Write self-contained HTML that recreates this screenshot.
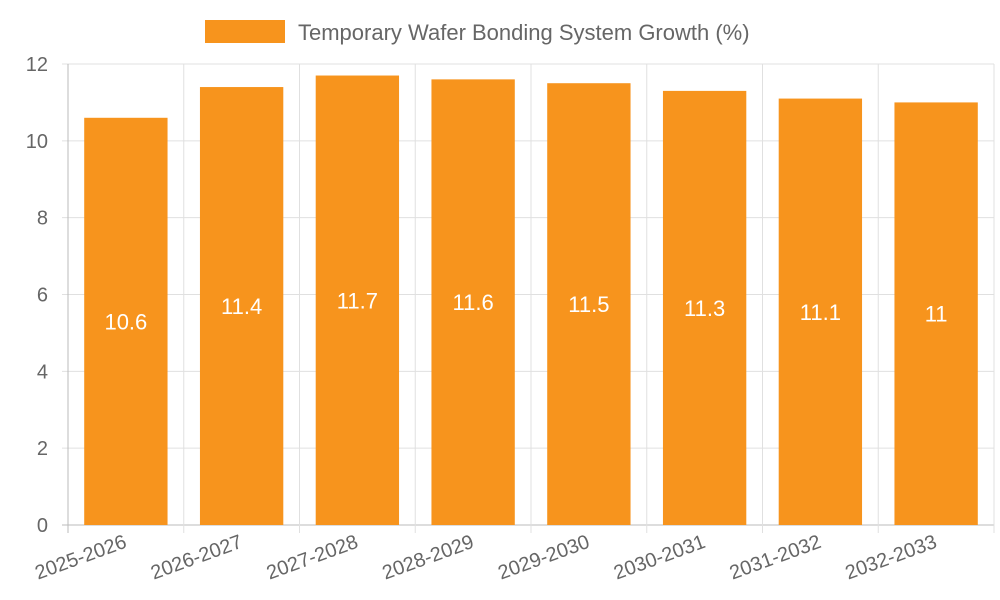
<!DOCTYPE html>
<html><head><meta charset="utf-8"><style>
html,body{margin:0;padding:0;background:#fff;width:1000px;height:600px;overflow:hidden}
svg{display:block;font-family:"Liberation Sans",sans-serif}
</style></head><body>
<svg id="chart" width="1000" height="600">
<g>
<rect x="205" y="20" width="80" height="23" fill="#f7941d"></rect>
<text x="298" y="40" font-size="22" fill="#666">Temporary Wafer Bonding System Growth (%)</text>
</g>
<g id="grid"></g>
<g id="bars"></g>
<g id="axes"></g>
</svg>
<script>
const categories=["2025-2026","2026-2027","2027-2028","2028-2029","2029-2030","2030-2031","2031-2032","2032-2033"];
const values=[10.6,11.4,11.7,11.6,11.5,11.3,11.1,11];
const yTicks=[0,2,4,6,8,10,12];
const NS="http://www.w3.org/2000/svg";
const L=68,R=994,T=64,B=525,yMax=12;
const band=(R-L)/categories.length;
const y=v=>B-(v/yMax)*(B-T);
const xc=i=>L+band*(i+0.5);
function mk(tag,attrs,parent){const e=document.createElementNS(NS,tag);for(const k in attrs)e.setAttribute(k,attrs[k]);parent.appendChild(e);return e;}
const grid=document.getElementById('grid'),bars=document.getElementById('bars'),axes=document.getElementById('axes');
yTicks.forEach(t=>{
 const ln=mk('line',{x1:L-6,x2:R,y1:y(t),y2:y(t),stroke:t===0?'#bbb':'#e0e0e0','stroke-width':1},grid);
 
 
 const tx=mk('text',{x:L-20,y:y(t)+7,'text-anchor':'end','font-size':20,fill:'#666'},axes);
 tx.textContent=t;
 
 
});
for(let i=0;i<=categories.length;i++){
 const x=L+band*i;
 const ln=mk('line',{x1:x,x2:x,y1:T,y2:B+8,stroke:i===0?'#bbb':'#e0e0e0','stroke-width':1},grid);
 
 
}
const bw=band*0.72;
categories.forEach((c,i)=>{
 const v=values[i];
 const r=mk('rect',{x:xc(i)-bw/2,y:y(v),width:bw,height:B-y(v),fill:'#f7941d'},bars);
 
 
 const vt=mk('text',{x:xc(i),y:(y(v)+B)/2+8,'text-anchor':'middle','font-size':22,fill:'#fff'},bars);
 vt.textContent=String(v);
 
 
 const xt=mk('text',{x:xc(i)+2,y:B+22,'text-anchor':'end','font-size':20,fill:'#666',transform:`rotate(-20 ${xc(i)+2} ${B+22})`},axes);
 xt.textContent=c;
 
 
});
</script>
</body></html>
